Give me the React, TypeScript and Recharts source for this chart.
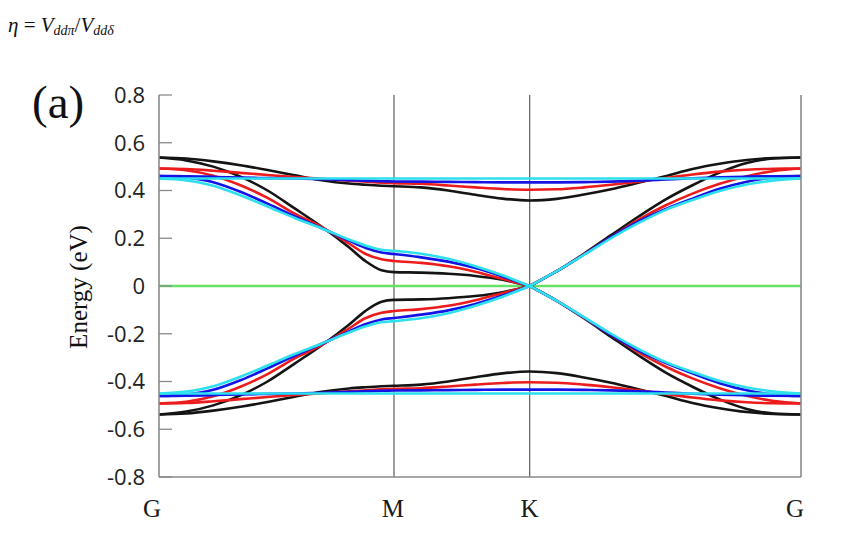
import { Line, LineChart, ReferenceLine, XAxis, YAxis } from 'recharts'

// path coordinate along G-M-K-G (|GM| = 0.866, |MK| = 0.5, |KG| = 1)
const PATH_K = [
  0, 0.1, 0.2, 0.3, 0.4, 0.5, 0.6, 0.7, 0.76, 0.82, 0.866,
  0.966, 1.066, 1.166, 1.266, 1.366,
  1.466, 1.566, 1.666, 1.766, 1.866, 1.966, 2.066, 2.166, 2.266, 2.366,
]
const K_INDEX = 15

const SYM_POINTS = [0, 0.866, 1.366, 2.366]
const SYM_LABELS = ['G', 'M', 'K', 'G']
const Y_TICKS = [-0.8, -0.6, -0.4, -0.2, 0, 0.2, 0.4, 0.6, 0.8]

// flat band at zero
const FLAT_BAND = [0, 0, 0, 0, 0, 0, 0, 0, 0, 0, 0, 0, 0, 0, 0, 0, 0, 0, 0, 0, 0, 0, 0, 0, 0, 0]

// black
const BLACK_UPPER_A = [0.538, 0.534, 0.522, 0.506, 0.486, 0.464, 0.443, 0.429, 0.424, 0.42, 0.418, 0.413, 0.4, 0.382, 0.366, 0.358, 0.365, 0.383, 0.405, 0.432, 0.46, 0.49, 0.512, 0.528, 0.536, 0.538]
const BLACK_UPPER_B = [0.538, 0.526, 0.5, 0.458, 0.4, 0.325, 0.248, 0.162, 0.105, 0.066, 0.058, 0.056, 0.051, 0.042, 0.026, 0, 0.062, 0.135, 0.213, 0.29, 0.362, 0.422, 0.475, 0.515, 0.534, 0.538]
const BLACK_LOWER_A = [-0.538, -0.534, -0.522, -0.506, -0.486, -0.464, -0.443, -0.429, -0.424, -0.42, -0.418, -0.413, -0.4, -0.382, -0.366, -0.358, -0.365, -0.383, -0.405, -0.432, -0.46, -0.49, -0.512, -0.528, -0.536, -0.538]
const BLACK_LOWER_B = [-0.538, -0.526, -0.5, -0.458, -0.4, -0.325, -0.248, -0.162, -0.105, -0.066, -0.058, -0.056, -0.051, -0.042, -0.026, 0, -0.062, -0.135, -0.213, -0.29, -0.362, -0.422, -0.475, -0.515, -0.534, -0.538]

// red
const RED_UPPER_A = [0.492, 0.49, 0.483, 0.474, 0.465, 0.456, 0.449, 0.441, 0.437, 0.433, 0.431, 0.428, 0.421, 0.413, 0.406, 0.403, 0.405, 0.413, 0.424, 0.437, 0.452, 0.467, 0.479, 0.487, 0.491, 0.492]
const RED_UPPER_B = [0.492, 0.485, 0.462, 0.422, 0.369, 0.303, 0.247, 0.178, 0.135, 0.112, 0.105, 0.097, 0.083, 0.06, 0.03, 0, 0.062, 0.133, 0.205, 0.277, 0.337, 0.387, 0.428, 0.46, 0.482, 0.492]
const RED_LOWER_A = [-0.492, -0.49, -0.483, -0.474, -0.465, -0.456, -0.449, -0.441, -0.437, -0.433, -0.431, -0.428, -0.421, -0.413, -0.406, -0.403, -0.405, -0.413, -0.424, -0.437, -0.452, -0.467, -0.479, -0.487, -0.491, -0.492]
const RED_LOWER_B = [-0.492, -0.485, -0.462, -0.422, -0.369, -0.303, -0.247, -0.178, -0.135, -0.112, -0.105, -0.097, -0.083, -0.06, -0.03, 0, -0.062, -0.133, -0.205, -0.277, -0.337, -0.387, -0.428, -0.46, -0.482, -0.492]

// blue
const BLUE_UPPER_A = [0.461, 0.46, 0.457, 0.454, 0.452, 0.45, 0.447, 0.443, 0.441, 0.439, 0.438, 0.437, 0.436, 0.435, 0.434, 0.434, 0.434, 0.435, 0.437, 0.441, 0.446, 0.451, 0.455, 0.458, 0.46, 0.461]
const BLUE_UPPER_B = [0.461, 0.455, 0.435, 0.395, 0.345, 0.292, 0.242, 0.19, 0.16, 0.14, 0.134, 0.12, 0.102, 0.075, 0.04, 0, 0.062, 0.132, 0.205, 0.27, 0.322, 0.366, 0.407, 0.437, 0.455, 0.461]
const BLUE_LOWER_A = [-0.461, -0.46, -0.457, -0.454, -0.452, -0.45, -0.447, -0.443, -0.441, -0.439, -0.438, -0.437, -0.436, -0.435, -0.434, -0.434, -0.434, -0.435, -0.437, -0.441, -0.446, -0.451, -0.455, -0.458, -0.46, -0.461]
const BLUE_LOWER_B = [-0.461, -0.455, -0.435, -0.395, -0.345, -0.292, -0.242, -0.19, -0.16, -0.14, -0.134, -0.12, -0.102, -0.075, -0.04, 0, -0.062, -0.132, -0.205, -0.27, -0.322, -0.366, -0.407, -0.437, -0.455, -0.461]

// cyan
const CYAN_UPPER_A = [0.45, 0.45, 0.45, 0.45, 0.45, 0.45, 0.45, 0.45, 0.45, 0.45, 0.45, 0.45, 0.45, 0.45, 0.45, 0.45, 0.45, 0.45, 0.45, 0.45, 0.45, 0.45, 0.45, 0.45, 0.45, 0.45]
const CYAN_UPPER_B = [0.45, 0.442, 0.42, 0.38, 0.333, 0.285, 0.241, 0.195, 0.17, 0.152, 0.147, 0.135, 0.114, 0.083, 0.045, 0, 0.062, 0.13, 0.2, 0.263, 0.318, 0.36, 0.398, 0.425, 0.442, 0.45]
const CYAN_LOWER_A = [-0.45, -0.45, -0.45, -0.45, -0.45, -0.45, -0.45, -0.45, -0.45, -0.45, -0.45, -0.45, -0.45, -0.45, -0.45, -0.45, -0.45, -0.45, -0.45, -0.45, -0.45, -0.45, -0.45, -0.45, -0.45, -0.45]
const CYAN_LOWER_B = [-0.45, -0.442, -0.42, -0.38, -0.333, -0.285, -0.241, -0.195, -0.17, -0.152, -0.147, -0.135, -0.114, -0.083, -0.045, 0, -0.062, -0.13, -0.2, -0.263, -0.318, -0.36, -0.398, -0.425, -0.442, -0.45]

const BAND_SETS = [
  { id: 'black', color: '#141414', bands: [BLACK_UPPER_A, BLACK_LOWER_A], cones: [BLACK_UPPER_B, BLACK_LOWER_B] },
  { id: 'red', color: '#ec1c1c', bands: [RED_UPPER_A, RED_LOWER_A], cones: [RED_UPPER_B, RED_LOWER_B] },
  { id: 'blue', color: '#1414e6', bands: [BLUE_UPPER_A, BLUE_LOWER_A], cones: [BLUE_UPPER_B, BLUE_LOWER_B] },
  { id: 'cyan', color: '#2edfee', bands: [CYAN_UPPER_A, CYAN_LOWER_A], cones: [CYAN_UPPER_B, CYAN_LOWER_B] },
]

const FRAME = '#8a8a8a'
const SERIF = "'Liberation Serif', 'Times New Roman', serif"
const X_MAX = PATH_K[PATH_K.length - 1]

function toPoints(values: number[], from = 0, to = values.length) {
  return PATH_K.slice(from, to).map((k, i) => ({ k, e: values[from + i] }))
}

function bandLine(key: string, data: { k: number; e: number }[], color: string) {
  return (
    <Line
      key={key}
      data={data}
      dataKey="e"
      type="monotone"
      stroke={color}
      strokeWidth={2.6}
      dot={false}
      activeDot={false}
      isAnimationActive={false}
    />
  )
}

const LABEL_SHIFT = [-7, -1, 0, -6]

function PathTick(props: any) {
  const { x, y, index } = props
  return (
    <text x={x + (LABEL_SHIFT[index] ?? 0)} y={y + 40} textAnchor="middle" fontFamily={SERIF} fontSize={25} fill="#1a1a1a">
      {SYM_LABELS[index]}
    </text>
  )
}

export default function App() {
  const lines = [
    bandLine('flat', toPoints(FLAT_BAND), '#66e066'),
    ...BAND_SETS.flatMap((set) => [
      ...set.bands.map((vals, i) => bandLine(`${set.id}-a-${i}`, toPoints(vals), set.color)),
      ...set.cones.flatMap((vals, i) => [
        bandLine(`${set.id}-bl-${i}`, toPoints(vals, 0, K_INDEX + 1), set.color),
        bandLine(`${set.id}-br-${i}`, toPoints(vals, K_INDEX), set.color),
      ]),
    ]),
  ]

  return (
    <div style={{ position: 'absolute', left: 0, top: 0, width: 864, height: 535, background: '#fff' }}>
      <LineChart width={864} height={535} margin={{ top: 95, right: 0, bottom: 0, left: 0 }}>
        <XAxis
          dataKey="k"
          type="number"
          domain={[0, X_MAX]}
          ticks={SYM_POINTS}
          tick={(p: any) => <PathTick {...p} />}
          tickLine={false}
          tickSize={0}
          tickMargin={0}
          height={58}
          axisLine={{ stroke: FRAME, strokeWidth: 1.6 }}
          allowDataOverflow
        />
        <XAxis
          xAxisId="top"
          orientation="top"
          type="number"
          domain={[0, X_MAX]}
          tick={false}
          tickLine={false}
          height={0}
          axisLine={{ stroke: FRAME, strokeWidth: 1.6 }}
        />
        <YAxis
          type="number"
          domain={[-0.8, 0.8]}
          ticks={Y_TICKS}
          width={159}
          tickSize={-13}
          tickMargin={27}
          tickLine={{ stroke: FRAME, strokeWidth: 1.3 }}
          axisLine={{ stroke: FRAME, strokeWidth: 1.6 }}
          tick={{ fill: '#222', fontSize: 22, fontFamily: "'Open Sans', sans-serif" }}
          tickFormatter={(v: number) => (v === 0 ? '0' : v.toFixed(1))}
          allowDataOverflow
        />
        <YAxis
          yAxisId="right"
          orientation="right"
          type="number"
          domain={[-0.8, 0.8]}
          ticks={Y_TICKS}
          width={63}
          tickSize={-13}
          tick={false}
          tickLine={{ stroke: FRAME, strokeWidth: 1.3 }}
          axisLine={{ stroke: FRAME, strokeWidth: 1.6 }}
        />
        <ReferenceLine x={SYM_POINTS[1]} stroke="#6a6a6a" strokeWidth={1.3} />
        <ReferenceLine x={SYM_POINTS[2]} stroke="#6a6a6a" strokeWidth={1.3} />
        {lines}
      </LineChart>

      <svg width={864} height={535} style={{ position: 'absolute', left: 0, top: 0, pointerEvents: 'none' }}>
        <text x={8} y={32} fontFamily={SERIF} fontSize={21} fill="#111">
          <tspan fontStyle="italic">η</tspan>
          <tspan> = </tspan>
          <tspan fontStyle="italic">V</tspan>
          <tspan fontStyle="italic" fontSize={14} dy={3}>ddπ</tspan>
          <tspan dy={-3}>/</tspan>
          <tspan fontStyle="italic">V</tspan>
          <tspan fontStyle="italic" fontSize={14} dy={3}>ddδ</tspan>
        </text>
        <text x={32} y={118} fontFamily={SERIF} fontSize={47} fill="#111">
          (a)
        </text>
        <text transform="translate(87 287) rotate(-90)" textAnchor="middle" fontFamily={SERIF} fontSize={25} fill="#111">
          Energy (eV)
        </text>
      </svg>
    </div>
  )
}
